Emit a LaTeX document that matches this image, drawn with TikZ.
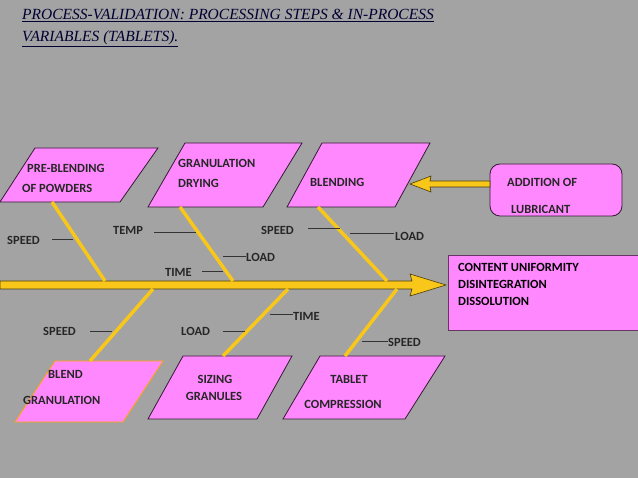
\documentclass[tikz,border=0pt]{standalone}
\usepackage{fontspec}
\setmainfont{Carlito}
\newfontfamily\titlefont{Liberation Serif}
\usetikzlibrary{arrows.meta}
\definecolor{bg}{HTML}{A3A3A3}
\definecolor{pk}{HTML}{FF88FF}
\definecolor{yl}{HTML}{F8C71A}
\definecolor{tk}{HTML}{333333}
\tikzset{
 box/.style={fill=pk,draw=black!80!pk,line width=0.8pt},
 bone/.style={draw=yl,line width=3.5pt},
 tick/.style={draw=tk,line width=0.8pt},
 lbl/.style={font=\bfseries\fontsize{12.5}{14}\selectfont,text=black!85,inner sep=0pt,align=left},
}
\begin{document}
\begin{tikzpicture}[x=1pt,y=-1pt]
\fill[bg] (0,0) rectangle (638,478);
\useasboundingbox (0,0) rectangle (638,478);
\node[anchor=north west,inner sep=0pt,align=left,text=black!80!blue,font=\titlefont\itshape\fontsize{15.5}{22}\selectfont] (title) at (22,9) {\underline{PROCESS-VALIDATION: PROCESSING STEPS \& IN-PROCESS}\\\underline{VARIABLES (TABLETS).}};
% top boxes
\draw[box] (35,148) -- (158,148) -- (120,202) -- (0,202) -- cycle;
\coordinate (pb) at (52,202);
\node[lbl,anchor=west] (pbt) at (27,168) {PRE-BLENDING};
\node[lbl,anchor=west] (pbt2) at (22,188) {OF POWDERS};
\draw[box] (185,143) -- (302,143) -- (263,207) -- (148,207) -- cycle;
\coordinate (gd) at (180,207);
\node[lbl,anchor=west] (gdt) at (178,163) {GRANULATION};
\node[lbl,anchor=west] (gdt2) at (178,183) {DRYING};
\draw[box] (322,143) -- (430,143) -- (395,207) -- (287,207) -- cycle;
\coordinate (bl) at (318,207);
\node[lbl,anchor=west] (blt) at (310,182) {BLENDING};
\node[box,rounded corners=10pt,minimum width=132pt,minimum height=52pt] (add) at (556,190) {};
\node[lbl,anchor=west] (addt) at (507,182) {ADDITION OF};
\node[lbl,anchor=west] (addt2) at (511,209) {LUBRICANT};
\coordinate (blr) at (410,184);
% bottom boxes
\draw[box,draw=orange!70!yellow] (55,361) -- (163,361) -- (123,422) -- (15,422) -- cycle;
\coordinate (bg1) at (90,361);
\node[lbl,anchor=west] (bgt) at (48,374) {BLEND};
\node[lbl,anchor=west] (bgt2) at (23,400) {GRANULATION};
\draw[box] (183,356) -- (292,356) -- (257,419) -- (148,419) -- cycle;
\coordinate (sz) at (223,356);
\node[lbl,anchor=center] (szt) at (215,379) {SIZING};
\node[lbl,anchor=center] (szt2) at (214,396) {GRANULES};
\draw[box] (320,356) -- (445,356) -- (405,419) -- (283,419) -- cycle;
\coordinate (tc) at (345,356);
\node[lbl,anchor=center] (tct) at (349,379) {TABLET};
\node[lbl,anchor=center] (tct2) at (343,404) {COMPRESSION};
% effect
\node[box,draw=black!60!pk,minimum width=192pt,minimum height=75pt,anchor=north west] (eff) at (448,255) {};
\node[lbl,anchor=north west,text=black] (efft) at (458,263) {CONTENT UNIFORMITY\\[3pt]DISINTEGRATION\\[3pt]DISSOLUTION};
% spine
\coordinate (s0) at (0,285);
\draw[fill=yl,draw=black!70!yl,line width=0.6pt] (0,281) -- (412,281) -- (410,274) -- (446,285) -- (410,296) -- (412,289) -- (0,289) -- cycle;
% lubricant arrow
\draw[fill=yl,draw=black!70!yl,line width=0.6pt] (490,181) -- (430,181) -- (431,176) -- (410,184) -- (431,192) -- (430,187) -- (490,187) -- cycle;
% bones
\coordinate (e1) at (105,281); \coordinate (e2) at (233,281); \coordinate (e3) at (387,281);
\coordinate (f1) at (153,289); \coordinate (f2) at (288,289); \coordinate (f3) at (397,289);
\draw[bone] (pb) -- (e1); \draw[bone] (gd) -- (e2); \draw[bone] (bl) -- (e3);
\draw[bone] (bg1) -- (f1); \draw[bone] (sz) -- (f2); \draw[bone] (tc) -- (f3);
% labels
\node[lbl,anchor=west] (l1) at (7,240) {SPEED}; \draw[tick] (52,239) -- (73,239);
\node[lbl,anchor=west] (l2) at (113,230) {TEMP}; \draw[tick] (154,232) -- (196,232);
\node[lbl,anchor=west] (l3) at (246,257) {LOAD}; \draw[tick] (223,256) -- (246,256);
\node[lbl,anchor=west] (l4) at (165,272) {TIME}; \draw[tick] (202,271) -- (223,271);
\node[lbl,anchor=west] (l5) at (261,230) {SPEED}; \draw[tick] (308,228) -- (340,228);
\node[lbl,anchor=west] (l6) at (395,236) {LOAD}; \draw[tick] (350,233) -- (394,233);
\node[lbl,anchor=west] (l7) at (43,331) {SPEED}; \draw[tick] (90,331) -- (112,331);
\node[lbl,anchor=west] (l8) at (181,331) {LOAD}; \draw[tick] (223,331) -- (245,331);
\node[lbl,anchor=west] (l9) at (293,316) {TIME}; \draw[tick] (270,314) -- (293,314);
\node[lbl,anchor=west] (l10) at (388,342) {SPEED}; \draw[tick] (362,341) -- (388,341);
\end{tikzpicture}
\end{document}
